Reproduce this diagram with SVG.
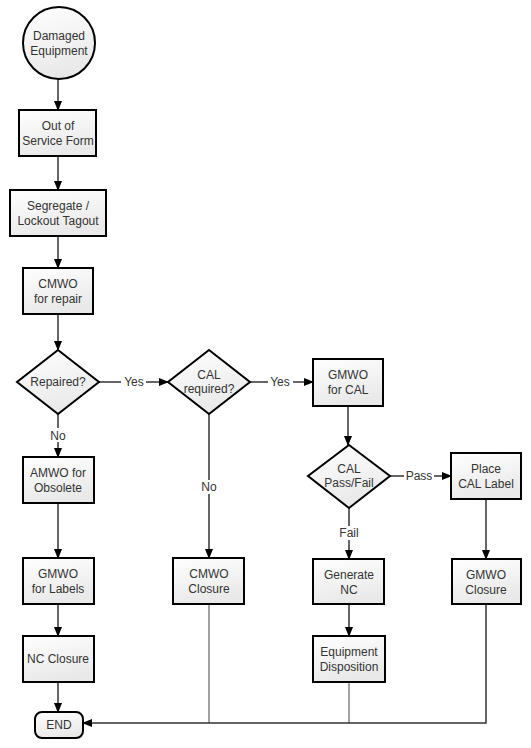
<svg xmlns="http://www.w3.org/2000/svg" width="531" height="748" viewBox="0 0 531 748">
<defs>
<linearGradient id="g" x1="0" y1="0" x2="0.3" y2="1">
<stop offset="0" stop-color="#ffffff"/>
<stop offset="1" stop-color="#e9e9e9"/>
</linearGradient>
<marker id="ah" markerWidth="10" markerHeight="10" refX="9" refY="5" orient="auto" markerUnits="userSpaceOnUse">
<path d="M0,1 L10,5 L0,9 Z" fill="#000"/>
</marker>
<style>
.n{fill:url(#g);stroke:#000;stroke-width:2}
.t{font-family:"Liberation Sans",Arial,sans-serif;font-size:12px;fill:#333;text-anchor:middle}
.c{fill:none;stroke:#333;stroke-width:1.5}
.f{fill:none;stroke:#444;stroke-width:1}
.lb{fill:#fff}
</style>
</defs>
<rect width="531" height="748" fill="#fff"/>
<g id="connectors">
<path class="c" d="M58,79 V110" marker-end="url(#ah)"/>
<path class="c" d="M58,156 V190" marker-end="url(#ah)"/>
<path class="c" d="M58,236 V268" marker-end="url(#ah)"/>
<path class="c" d="M58,314 V350" marker-end="url(#ah)"/>
<path class="c" d="M58,414 V457" marker-end="url(#ah)"/>
<path class="c" d="M58,503 V558" marker-end="url(#ah)"/>
<path class="c" d="M58,604 V636" marker-end="url(#ah)"/>
<path class="c" d="M58,682 V712" marker-end="url(#ah)"/>
<path class="c" d="M99,382 H168" marker-end="url(#ah)"/>
<path class="c" d="M250,382 H313" marker-end="url(#ah)"/>
<path class="c" d="M209,414 V558" marker-end="url(#ah)"/>
<path class="c" d="M348,406 V445" marker-end="url(#ah)"/>
<path class="c" d="M390,476 H451" marker-end="url(#ah)"/>
<path class="c" d="M349,508 V559" marker-end="url(#ah)"/>
<path class="c" d="M486,499 V559" marker-end="url(#ah)"/>
<path class="c" d="M349,604 V636" marker-end="url(#ah)"/>
<path class="f" d="M209,604 V723"/>
<path class="f" d="M349,682 V723"/>
<path class="c" d="M486,604 V723 H83" marker-end="url(#ah)"/>
<rect class="lb" x="121" y="375" width="25" height="14"/>
<text class="t" x="134" y="386">Yes</text>
<rect class="lb" x="268" y="375" width="25" height="14"/>
<text class="t" x="280" y="386">Yes</text>
<rect class="lb" x="49" y="428" width="18" height="14"/>
<text class="t" x="58" y="440">No</text>
<rect class="lb" x="200" y="480" width="18" height="14"/>
<text class="t" x="209" y="491">No</text>
<rect class="lb" x="404" y="469" width="30" height="14"/>
<text class="t" x="419" y="480">Pass</text>
<rect class="lb" x="337" y="526" width="24" height="14"/>
<text class="t" x="349" y="537">Fail</text>
</g>
<g id="damaged">
<circle class="n" cx="59" cy="43" r="36"/>
<text class="t" x="59" y="40">Damaged</text>
<text class="t" x="59" y="55">Equipment</text>
</g>
<g id="oos">
<rect class="n" x="19" y="110" width="77" height="46"/>
<text class="t" x="58" y="130">Out of</text>
<text class="t" x="58" y="145">Service Form</text>
</g>
<g id="segregate">
<rect class="n" x="10" y="190" width="96" height="46"/>
<text class="t" x="58" y="210">Segregate /</text>
<text class="t" x="58" y="225">Lockout Tagout</text>
</g>
<g id="cmwo-repair">
<rect class="n" x="23" y="268" width="70" height="46"/>
<text class="t" x="58" y="288">CMWO</text>
<text class="t" x="58" y="303">for repair</text>
</g>
<g id="repaired">
<path class="n" d="M58,350 L99,382 L58,414 L17,382 Z"/>
<text class="t" x="58" y="386">Repaired?</text>
</g>
<g id="cal-required">
<path class="n" d="M209,350 L250,382 L209,414 L168,382 Z"/>
<text class="t" x="209" y="379">CAL</text>
<text class="t" x="209" y="393">required?</text>
</g>
<g id="gmwo-cal">
<rect class="n" x="313" y="359" width="70" height="47"/>
<text class="t" x="348" y="379">GMWO</text>
<text class="t" x="348" y="394">for CAL</text>
</g>
<g id="cal-passfail">
<path class="n" d="M349,445 L390,476 L349,508 L308,476 Z"/>
<text class="t" x="349" y="473">CAL</text>
<text class="t" x="349" y="487">Pass/Fail</text>
</g>
<g id="place-cal">
<rect class="n" x="451" y="453" width="70" height="46"/>
<text class="t" x="486" y="473">Place</text>
<text class="t" x="486" y="488">CAL Label</text>
</g>
<g id="amwo">
<rect class="n" x="23" y="457" width="71" height="46"/>
<text class="t" x="58" y="477">AMWO for</text>
<text class="t" x="58" y="492">Obsolete</text>
</g>
<g id="gmwo-labels">
<rect class="n" x="23" y="558" width="71" height="46"/>
<text class="t" x="58" y="578">GMWO</text>
<text class="t" x="58" y="593">for Labels</text>
</g>
<g id="cmwo-closure">
<rect class="n" x="173" y="558" width="71" height="46"/>
<text class="t" x="209" y="578">CMWO</text>
<text class="t" x="209" y="593">Closure</text>
</g>
<g id="generate-nc">
<rect class="n" x="313" y="559" width="71" height="45"/>
<text class="t" x="349" y="579">Generate</text>
<text class="t" x="349" y="594">NC</text>
</g>
<g id="gmwo-closure">
<rect class="n" x="452" y="559" width="69" height="45"/>
<text class="t" x="486" y="579">GMWO</text>
<text class="t" x="486" y="594">Closure</text>
</g>
<g id="nc-closure">
<rect class="n" x="23" y="636" width="71" height="46"/>
<text class="t" x="58" y="663">NC Closure</text>
</g>
<g id="equipment-disposition">
<rect class="n" x="313" y="636" width="72" height="46"/>
<text class="t" x="349" y="656">Equipment</text>
<text class="t" x="349" y="671">Disposition</text>
</g>
<g id="end">
<rect class="n" x="35" y="712" width="48" height="26" rx="7"/>
<text class="t" x="59" y="729">END</text>
</g>
</svg>
